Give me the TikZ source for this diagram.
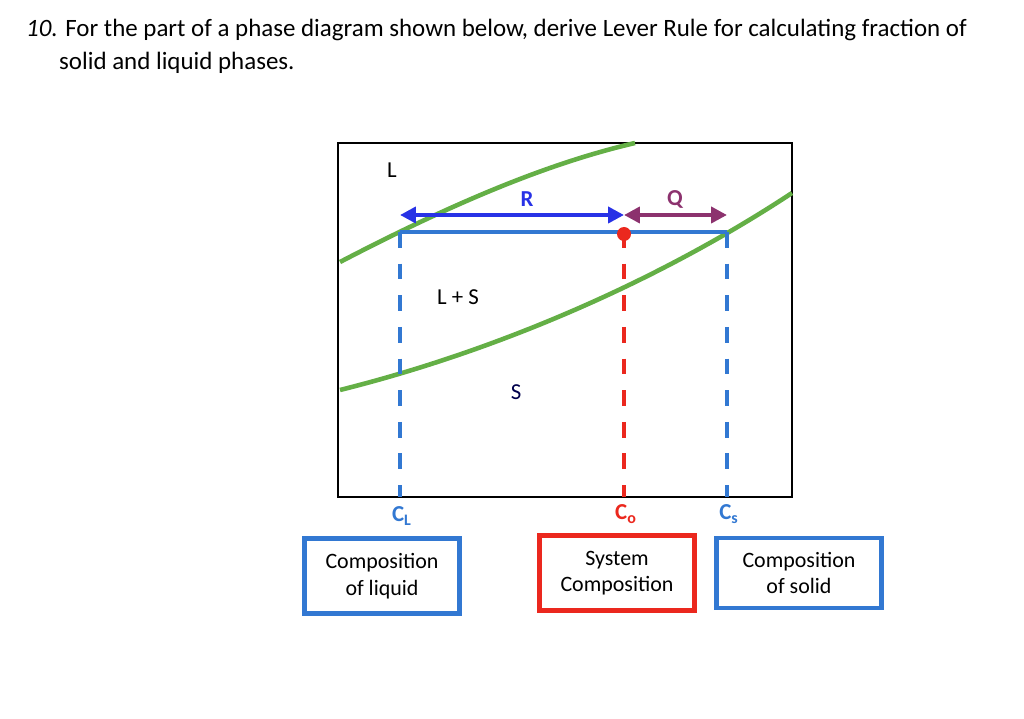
\documentclass[tikz,border=0pt]{standalone}
\usepackage{fontspec}
\setmainfont{Carlito}
\usetikzlibrary{arrows.meta}
\definecolor{gr}{RGB}{100,175,70}
\definecolor{bl}{RGB}{50,120,210}
\definecolor{rd}{RGB}{235,40,30}
\definecolor{ab}{RGB}{40,50,230}
\definecolor{pu}{RGB}{140,50,110}
\tikzset{px/.style={x=0.02cm,y=-0.02cm},
 lab/.style={font=\fontsize{13}{15}\selectfont},
 cbox/.style={draw,line width=2.5pt,minimum width=3.1cm,minimum height=1.5cm,align=center,font=\fontsize{12.5}{15}\selectfont},
 dsh/.style={line width=1.8pt,dash pattern=on 9pt off 9pt}}
\begin{document}
\begin{tikzpicture}[px]
\useasboundingbox (0,0) rectangle (1024,719);
\node[anchor=west,font=\fontsize{14.2}{17}\selectfont] (t1) at (20,30) {\textit{10.} For the part of a phase diagram shown below, derive Lever Rule for calculating fraction of};
\node[anchor=west,font=\fontsize{14.2}{17}\selectfont] (t2) at (53,63) {solid and liquid phases.};
\draw[line width=1.6pt] (338,143) rectangle (792,497);
\draw[gr,line width=2.6pt] (340,262) .. controls (440,210) and (540,165) .. (635,143);
\draw[gr,line width=2.6pt] (340,390) .. controls (500,350) and (660,280) .. (792,193);
\coordinate (a) at (400,232); \coordinate (b) at (727,232); \coordinate (o) at (624,232);
\coordinate (ab) at (400,497); \coordinate (bb) at (727,497); \coordinate (ob) at (624,497);
\draw[bl,line width=2.6pt] (a) -- (b);
\draw[bl,dsh] (a) -- (ab);
\draw[bl,dsh] (b) -- (bb);
\draw[rd,dsh] (o) -- (ob);
\fill[rd] (624,234) circle (7);
\draw[ab,line width=2.6pt,{Triangle[length=9pt,width=9pt]}-{Triangle[length=9pt,width=9pt]}] (400,215) -- (624,215);
\draw[pu,line width=2.6pt,{Triangle[length=9pt,width=9pt]}-{Triangle[length=9pt,width=9pt]}] (624,215) -- (727,215);
\node[ab,font=\fontsize{13}{15}\selectfont\bfseries] (R) at (527,199) {R};
\node[pu,font=\fontsize{13}{15}\selectfont\bfseries] (Q) at (675,199) {Q};
\node[lab] (L) at (392,170) {L};
\node[lab] (LS) at (458,297) {L + S};
\node[lab,text=black!70!blue] (S) at (516,392) {S};
\node[bl,font=\fontsize{13}{15}\selectfont\bfseries] (cl) at (402,516) {C\textsubscript{L}};
\node[rd,font=\fontsize{13}{15}\selectfont\bfseries] (co) at (626,514) {C\textsubscript{o}};
\node[bl,font=\fontsize{13}{15}\selectfont\bfseries] (cs) at (729,514) {C\textsubscript{s}};
\node[cbox,bl,text=black] (b1) at (382,576) {Composition\\of liquid};
\node[cbox,rd,text=black] (b2) at (617,573) {System\\Composition};
\node[cbox,bl,text=black,minimum width=3.3cm,minimum height=1.4cm] (b3) at (799,573) {Composition\\of solid};
\end{tikzpicture}
\end{document}
